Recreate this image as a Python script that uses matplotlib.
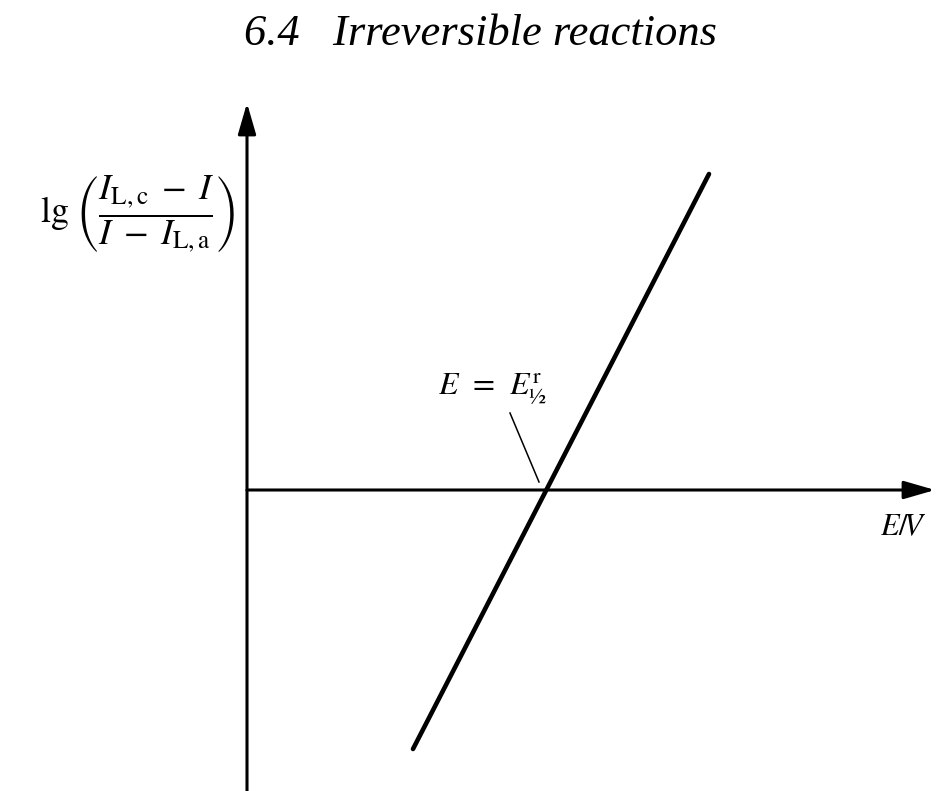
import matplotlib
matplotlib.use("Agg")
import matplotlib.pyplot as plt

plt.rcParams["mathtext.fontset"] = "stix"
plt.rcParams["font.family"] = ["Liberation Serif", "DejaVu Serif"]

# schematic data (E in arbitrary units, lg term in arbitrary units)
line_E = [0.166, 0.462]
line_lg = [-0.259, 0.316]
leader_E = [0.263, 0.292]
leader_lg = [0.077, 0.008]
x_axis_end = 0.688
y_axis_end = 0.387
y_axis_start = -0.301

fig = plt.figure(figsize=(9.38, 7.91), dpi=100)
ax = fig.add_axes([0, 0, 1, 1])
ax.set_xlim(-0.247, 0.691)
ax.set_ylim(-0.301, 0.490)
ax.axis("off")

# axes with arrow heads
arrow = dict(arrowstyle="-|>,head_length=1.9,head_width=0.55", color="black",
             lw=2.2, shrinkA=0, shrinkB=0)
ax.annotate("", xy=(x_axis_end, 0), xytext=(0, 0), arrowprops=arrow)
ax.annotate("", xy=(0, y_axis_end), xytext=(0, y_axis_start), arrowprops=arrow)

# straight line and leader to the half-wave point
ax.plot(line_E, line_lg, color="black", lw=3.3, solid_capstyle="round")
ax.plot(leader_E, leader_lg, color="black", lw=1.1)

# labels
ax.text(0.246, 0.095, r"$E\;\,=\;\,E^{\mathrm{r}}_{\mathrm{½}}$", fontsize=23,
        ha="center", va="baseline")
ax.text(0.656, -0.045, r"$E/\!V$", fontsize=22, ha="center", va="baseline")
ax.text(-0.110, 0.276,
        r"$\mathrm{lg}\;\left(\dfrac{I_{\mathrm{L,c}}\;-\;I}{I\;-\;I_{\mathrm{L,a}}}\right)$",
        fontsize=26, ha="center", va="center")

fig.text(480 / 938, 1 - 45 / 791, "6.4   Irreversible reactions",
         fontsize=32, style="italic", ha="center", va="baseline")

fig.savefig("out.png", dpi=100)
